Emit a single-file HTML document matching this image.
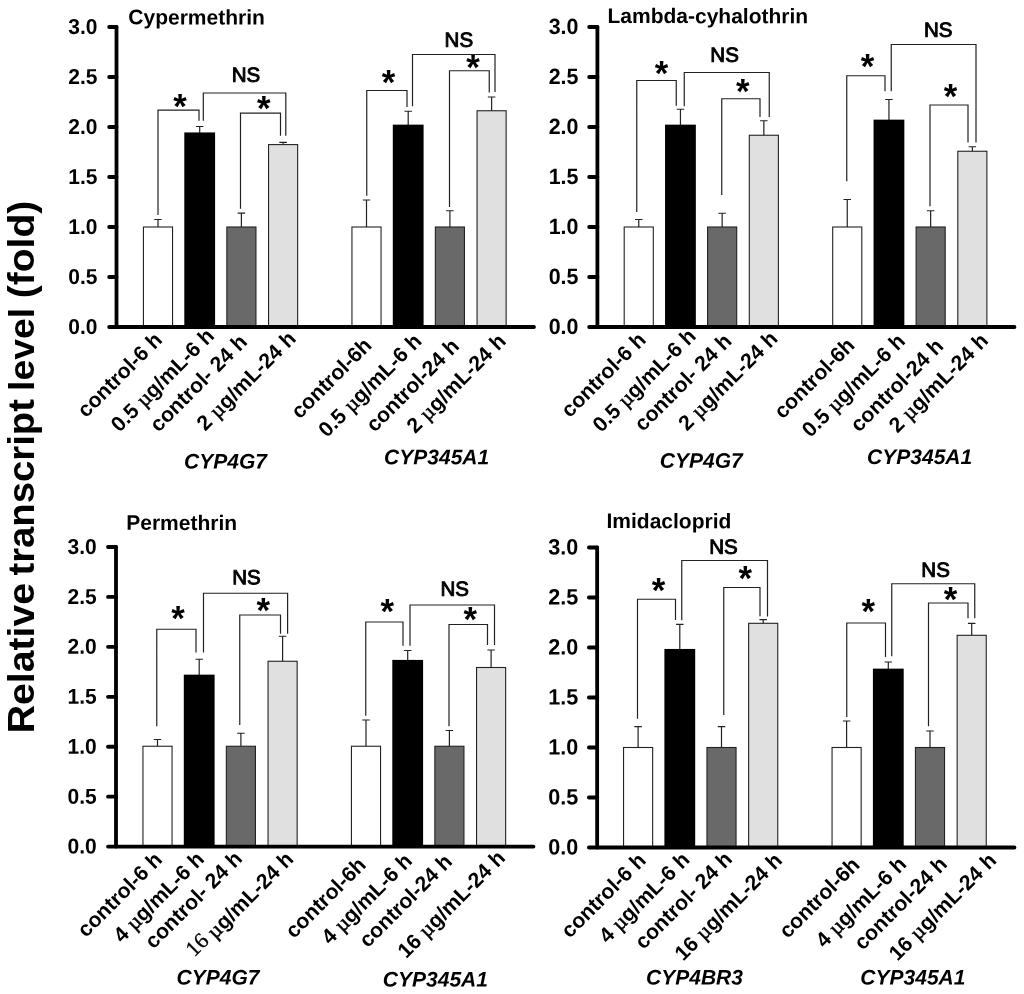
<!DOCTYPE html>
<html lang="en"><head><meta charset="utf-8"><title>Relative transcript level</title>
<style>
html,body{margin:0;padding:0;background:#fff}
svg{display:block}
text{font-family:"Liberation Sans",Arial,Helvetica,sans-serif;fill:#000}
.ln{fill:none;stroke:#222;stroke-width:1.2}
.bar{stroke:#222;stroke-width:1.1}
.axis{fill:none;stroke:#000;stroke-width:3.8;stroke-linecap:round;stroke-linejoin:round}
.tk{font-weight:bold;text-anchor:end}
.tt{font-size:21.0px;font-weight:bold}
.gn{font-size:21.0px;font-weight:bold;font-style:italic}
.lb{font-size:21.2px;font-weight:bold;text-anchor:end}
.mu{font-family:"Liberation Serif","Times New Roman",serif;font-weight:normal;stroke:#000;stroke-width:0.5px}
.serif{font-family:"Liberation Serif","Times New Roman",serif;font-weight:normal;font-size:22px;stroke:#000;stroke-width:0.35px}
.ns{font-size:20.5px;text-anchor:middle;stroke:#000;stroke-width:0.95px}
.st{font-size:34.8px;font-weight:bold;text-anchor:middle}
.yl{font-weight:bold}
</style></head>
<body>
<svg width="1024" height="994" viewBox="0 0 1024 994">
<rect width="1024" height="994" fill="#fff"/>
<path d="M158 227V219.5M154.25 219.5H161.75" class="ln"/>
<rect x="143.45" y="227" width="29.1" height="100" fill="#ffffff" class="bar"/>
<path d="M199.7 133.3V126.5M195.95 126.5H203.45" class="ln"/>
<rect x="185.15" y="133.3" width="29.1" height="193.7" fill="#000000" class="bar" style="stroke:#000;stroke-width:1.7"/>
<path d="M241.4 227V213.2M237.65 213.2H245.15" class="ln"/>
<rect x="226.85" y="227" width="29.1" height="100" fill="#696969" class="bar"/>
<path d="M283.1 144.6V142.3M279.35 142.3H286.85" class="ln"/>
<rect x="268.55" y="144.6" width="29.1" height="182.4" fill="#e0e0e0" class="bar"/>
<path d="M366.5 227V200M362.75 200H370.25" class="ln"/>
<rect x="351.95" y="227" width="29.1" height="100" fill="#ffffff" class="bar"/>
<path d="M408.2 125.5V111.25M404.45 111.25H411.95" class="ln"/>
<rect x="393.65" y="125.5" width="29.1" height="201.5" fill="#000000" class="bar" style="stroke:#000;stroke-width:1.7"/>
<path d="M449.9 227V210.75M446.15 210.75H453.65" class="ln"/>
<rect x="435.35" y="227" width="29.1" height="100" fill="#696969" class="bar"/>
<path d="M491.6 110.75V97M487.85 97H495.35" class="ln"/>
<rect x="477.05" y="110.75" width="29.1" height="216.25" fill="#e0e0e0" class="bar"/>
<path d="M116.5 27V327H534" class="axis"/>
<path d="M109.15 327H116.5" class="axis"/>
<text transform="translate(97.5 334) rotate(0.05) scale(1 1.03)" font-size="21" class="tk">0.0</text>
<path d="M109.15 277H116.5" class="axis"/>
<text transform="translate(97.5 284) rotate(0.05) scale(1 1.03)" font-size="21" class="tk">0.5</text>
<path d="M109.15 227H116.5" class="axis"/>
<text transform="translate(97.5 234) rotate(0.05) scale(1 1.03)" font-size="21" class="tk">1.0</text>
<path d="M109.15 177H116.5" class="axis"/>
<text transform="translate(97.5 184) rotate(0.05) scale(1 1.03)" font-size="21" class="tk">1.5</text>
<path d="M109.15 127H116.5" class="axis"/>
<text transform="translate(97.5 134) rotate(0.05) scale(1 1.03)" font-size="21" class="tk">2.0</text>
<path d="M109.15 77H116.5" class="axis"/>
<text transform="translate(97.5 84) rotate(0.05) scale(1 1.03)" font-size="21" class="tk">2.5</text>
<path d="M109.15 27H116.5" class="axis"/>
<text transform="translate(97.5 34) rotate(0.05) scale(1 1.03)" font-size="21" class="tk">3.0</text>
<text transform="translate(128.3 24.35) rotate(0.05) scale(1 1.0)" class="tt">Cypermethrin</text>
<path d="M158 215V110.1H199V120.7" class="ln"/>
<path d="M203.3 120.7V93H285.8V135.8" class="ln"/>
<path d="M240.5 208.7V113.2H280.5V135.8" class="ln"/>
<path d="M366.75 195.75V90.5H407V107" class="ln"/>
<path d="M412.5 106.25V54.5H495V92" class="ln"/>
<path d="M449.5 207V70.75H489.25V92.5" class="ln"/>
<text x="180" y="117.8" class="st">*</text>
<text x="263.7" y="120.3" class="st">*</text>
<text x="388.5" y="93.7" class="st">*</text>
<text x="473" y="78.7" class="st">*</text>
<text transform="translate(245.9 81.8) rotate(0.05) scale(1 1.0)" class="ns">NS</text>
<text transform="translate(458.82 46.85) rotate(0.05) scale(1 1.0)" class="ns">NS</text>
<text x="163.5" y="341" transform="rotate(-45 163.5 341)" class="lb">control-6 h</text>
<text x="215.5" y="337" transform="rotate(-45 215.5 337)" class="lb">0.5 <tspan class="mu">µ</tspan>g/mL-6 h</text>
<text x="248.5" y="343" transform="rotate(-45 248.5 343)" class="lb">control- 24 h</text>
<text x="297.25" y="339.75" transform="rotate(-45 297.25 339.75)" class="lb">2 <tspan class="mu">µ</tspan>g/mL-24 h</text>
<text x="373" y="346.5" transform="rotate(-45 373 346.5)" class="lb">control-6h</text>
<text x="423" y="342.25" transform="rotate(-45 423 342.25)" class="lb">0.5 <tspan class="mu">µ</tspan>g/mL-6 h</text>
<text x="460.5" y="347.25" transform="rotate(-45 460.5 347.25)" class="lb">control-24 h</text>
<text x="507.25" y="342.25" transform="rotate(-45 507.25 342.25)" class="lb">2 <tspan class="mu">µ</tspan>g/mL-24 h</text>
<text transform="translate(184.1 468.45) rotate(0.05) scale(1 1.0)" class="gn">CYP4G7</text>
<text transform="translate(384.1 464.2) rotate(0.05) scale(1 1.0)" class="gn">CYP345A1</text>
<path d="M638.75 227V219.5M635 219.5H642.5" class="ln"/>
<rect x="624.2" y="227" width="29.1" height="100" fill="#ffffff" class="bar"/>
<path d="M680.45 125.5V109.25M676.7 109.25H684.2" class="ln"/>
<rect x="665.9" y="125.5" width="29.1" height="201.5" fill="#000000" class="bar" style="stroke:#000;stroke-width:1.7"/>
<path d="M722.15 227V213.25M718.4 213.25H725.9" class="ln"/>
<rect x="707.6" y="227" width="29.1" height="100" fill="#696969" class="bar"/>
<path d="M763.85 135.25V120.75M760.1 120.75H767.6" class="ln"/>
<rect x="749.3" y="135.25" width="29.1" height="191.75" fill="#e0e0e0" class="bar"/>
<path d="M847.25 227V199.5M843.5 199.5H851" class="ln"/>
<rect x="832.7" y="227" width="29.1" height="100" fill="#ffffff" class="bar"/>
<path d="M888.95 120.5V99.5M885.2 99.5H892.7" class="ln"/>
<rect x="874.4" y="120.5" width="29.1" height="206.5" fill="#000000" class="bar" style="stroke:#000;stroke-width:1.7"/>
<path d="M930.65 227V210.75M926.9 210.75H934.4" class="ln"/>
<rect x="916.1" y="227" width="29.1" height="100" fill="#696969" class="bar"/>
<path d="M972.35 151.25V146.75M968.6 146.75H976.1" class="ln"/>
<rect x="957.8" y="151.25" width="29.1" height="175.75" fill="#e0e0e0" class="bar"/>
<path d="M597.4 27V327H1014.5" class="axis"/>
<path d="M589.15 327H597.4" class="axis"/>
<text transform="translate(578.4 334) rotate(0.05) scale(1 1.03)" font-size="21.4" class="tk">0.0</text>
<path d="M589.15 277H597.4" class="axis"/>
<text transform="translate(578.4 284) rotate(0.05) scale(1 1.03)" font-size="21.4" class="tk">0.5</text>
<path d="M589.15 227H597.4" class="axis"/>
<text transform="translate(578.4 234) rotate(0.05) scale(1 1.03)" font-size="21.4" class="tk">1.0</text>
<path d="M589.15 177H597.4" class="axis"/>
<text transform="translate(578.4 184) rotate(0.05) scale(1 1.03)" font-size="21.4" class="tk">1.5</text>
<path d="M589.15 127H597.4" class="axis"/>
<text transform="translate(578.4 134) rotate(0.05) scale(1 1.03)" font-size="21.4" class="tk">2.0</text>
<path d="M589.15 77H597.4" class="axis"/>
<text transform="translate(578.4 84) rotate(0.05) scale(1 1.03)" font-size="21.4" class="tk">2.5</text>
<path d="M589.15 27H597.4" class="axis"/>
<text transform="translate(578.4 34) rotate(0.05) scale(1 1.03)" font-size="21.4" class="tk">3.0</text>
<text transform="translate(607.5 23.05) rotate(0.05) scale(1 1.0)" class="tt">Lambda-cyhalothrin</text>
<path d="M636.75 212V80.5H676.25V105.75" class="ln"/>
<path d="M684.25 106.25V72.5H769.25V117" class="ln"/>
<path d="M721.75 195V98.75H760V117" class="ln"/>
<path d="M846.75 181.25V75.75H885V91.25" class="ln"/>
<path d="M891.25 91.25V44.5H976V142.5" class="ln"/>
<path d="M930 206.25V105H968V142.5" class="ln"/>
<text x="661.6" y="84.7" class="st">*</text>
<text x="742.75" y="102.7" class="st">*</text>
<text x="867.6" y="78.3" class="st">*</text>
<text x="950.5" y="108.3" class="st">*</text>
<text transform="translate(724.6 61.85) rotate(0.05) scale(1 1.0)" class="ns">NS</text>
<text transform="translate(938.2 36.85) rotate(0.05) scale(1 1.0)" class="ns">NS</text>
<text x="647.25" y="341" transform="rotate(-45 647.25 341)" class="lb">control-6 h</text>
<text x="697.25" y="337.25" transform="rotate(-45 697.25 337.25)" class="lb">0.5 <tspan class="mu">µ</tspan>g/mL-6 h</text>
<text x="733" y="342.25" transform="rotate(-45 733 342.25)" class="lb">control- 24 h</text>
<text x="779" y="339.75" transform="rotate(-45 779 339.75)" class="lb">2 <tspan class="mu">µ</tspan>g/mL-24 h</text>
<text x="856" y="346.5" transform="rotate(-45 856 346.5)" class="lb">control-6h</text>
<text x="906.5" y="342.25" transform="rotate(-45 906.5 342.25)" class="lb">0.5 <tspan class="mu">µ</tspan>g/mL-6 h</text>
<text x="944.75" y="347.25" transform="rotate(-45 944.75 347.25)" class="lb">control-24 h</text>
<text x="989.5" y="341.75" transform="rotate(-45 989.5 341.75)" class="lb">2 <tspan class="mu">µ</tspan>g/mL-24 h</text>
<text transform="translate(659.85 467.7) rotate(0.05) scale(1 1.0)" class="gn">CYP4G7</text>
<text transform="translate(867.1 463.95) rotate(0.05) scale(1 1.0)" class="gn">CYP345A1</text>
<path d="M157.5 746.25V739.5M153.75 739.5H161.25" class="ln"/>
<rect x="142.95" y="746.25" width="29.1" height="100.35" fill="#ffffff" class="bar"/>
<path d="M199.2 675.5V659.25M195.45 659.25H202.95" class="ln"/>
<rect x="184.65" y="675.5" width="29.1" height="171.1" fill="#000000" class="bar" style="stroke:#000;stroke-width:1.7"/>
<path d="M240.9 746.25V733.25M237.15 733.25H244.65" class="ln"/>
<rect x="226.35" y="746.25" width="29.1" height="100.35" fill="#696969" class="bar"/>
<path d="M282.6 661.25V636.25M278.85 636.25H286.35" class="ln"/>
<rect x="268.05" y="661.25" width="29.1" height="185.35" fill="#e0e0e0" class="bar"/>
<path d="M366 746.25V720M362.25 720H369.75" class="ln"/>
<rect x="351.45" y="746.25" width="29.1" height="100.35" fill="#ffffff" class="bar"/>
<path d="M407.7 660.75V650.5M403.95 650.5H411.45" class="ln"/>
<rect x="393.15" y="660.75" width="29.1" height="185.85" fill="#000000" class="bar" style="stroke:#000;stroke-width:1.7"/>
<path d="M449.4 746.25V730.5M445.65 730.5H453.15" class="ln"/>
<rect x="434.85" y="746.25" width="29.1" height="100.35" fill="#696969" class="bar"/>
<path d="M491.1 667.5V650M487.35 650H494.85" class="ln"/>
<rect x="476.55" y="667.5" width="29.1" height="179.1" fill="#e0e0e0" class="bar"/>
<path d="M116 547V846.6H533.5" class="axis"/>
<path d="M108 846.6H116" class="axis"/>
<text transform="translate(96.7 853.6) rotate(0.05) scale(1 1.03)" font-size="21" class="tk">0.0</text>
<path d="M108 796.67H116" class="axis"/>
<text transform="translate(96.7 803.67) rotate(0.05) scale(1 1.03)" font-size="21" class="tk">0.5</text>
<path d="M108 746.73H116" class="axis"/>
<text transform="translate(96.7 753.73) rotate(0.05) scale(1 1.03)" font-size="21" class="tk">1.0</text>
<path d="M108 696.8H116" class="axis"/>
<text transform="translate(96.7 703.8) rotate(0.05) scale(1 1.03)" font-size="21" class="tk">1.5</text>
<path d="M108 646.87H116" class="axis"/>
<text transform="translate(96.7 653.87) rotate(0.05) scale(1 1.03)" font-size="21" class="tk">2.0</text>
<path d="M108 596.93H116" class="axis"/>
<text transform="translate(96.7 603.93) rotate(0.05) scale(1 1.03)" font-size="21" class="tk">2.5</text>
<path d="M108 547H116" class="axis"/>
<text transform="translate(96.7 554) rotate(0.05) scale(1 1.03)" font-size="21" class="tk">3.0</text>
<text transform="translate(126.2 529.85) rotate(0.05) scale(1 1.0)" class="tt">Permethrin</text>
<path d="M156.75 726.25V629.25H196V652.5" class="ln"/>
<path d="M203.5 652.5V593.25H287.6V633.75" class="ln"/>
<path d="M239.75 725V615H280.5V633.75" class="ln"/>
<path d="M365.75 715.75V622H403V645.75" class="ln"/>
<path d="M410 645.75V605H494.5V645" class="ln"/>
<path d="M449 726.25V624.5H487.5V645" class="ln"/>
<text x="177.9" y="629.6" class="st">*</text>
<text x="263.25" y="621.6" class="st">*</text>
<text x="387.25" y="622.7" class="st">*</text>
<text x="470.25" y="631.45" class="st">*</text>
<text transform="translate(246.45 584.35) rotate(0.05) scale(1 1.0)" class="ns">NS</text>
<text transform="translate(454.7 595.85) rotate(0.05) scale(1 1.0)" class="ns">NS</text>
<text x="163.5" y="860.75" transform="rotate(-45 163.5 860.75)" class="lb">control-6 h</text>
<text x="205.5" y="860.25" transform="rotate(-45 205.5 860.25)" class="lb">4 <tspan class="mu">µ</tspan>g/mL-6 h</text>
<text x="243.5" y="859.75" transform="rotate(-45 243.5 859.75)" class="lb">control- 24 h</text>
<text x="294.75" y="860.25" transform="rotate(-45 294.75 860.25)" class="lb"><tspan class="serif" dy="-2.2">16 </tspan><tspan dy="2.2"><tspan class="mu">µ</tspan>g/mL-24 h</tspan></text>
<text x="367.25" y="866" transform="rotate(-45 367.25 866)" class="lb">control-6h</text>
<text x="413.5" y="862" transform="rotate(-45 413.5 862)" class="lb">4 <tspan class="mu">µ</tspan>g/mL-6 h</text>
<text x="453.5" y="862.75" transform="rotate(-45 453.5 862.75)" class="lb">control-24 h</text>
<text x="506.5" y="859" transform="rotate(-45 506.5 859)" class="lb">16 <tspan class="mu">µ</tspan>g/mL-24 h</text>
<text transform="translate(176.6 984.45) rotate(0.05) scale(1 1.0)" class="gn">CYP4G7</text>
<text transform="translate(382.85 986.45) rotate(0.05) scale(1 1.0)" class="gn">CYP345A1</text>
<path d="M638.1 747.5V726.6M634.35 726.6H641.85" class="ln"/>
<rect x="623.55" y="747.5" width="29.1" height="100" fill="#ffffff" class="bar"/>
<path d="M679.8 649.8V624.4M676.05 624.4H683.55" class="ln"/>
<rect x="665.25" y="649.8" width="29.1" height="197.7" fill="#000000" class="bar" style="stroke:#000;stroke-width:1.7"/>
<path d="M721.5 747.5V726.6M717.75 726.6H725.25" class="ln"/>
<rect x="706.95" y="747.5" width="29.1" height="100" fill="#696969" class="bar"/>
<path d="M763.2 623.3V619.6M759.45 619.6H766.95" class="ln"/>
<rect x="748.65" y="623.3" width="29.1" height="224.2" fill="#e0e0e0" class="bar"/>
<path d="M846.6 747.5V721M842.85 721H850.35" class="ln"/>
<rect x="832.05" y="747.5" width="29.1" height="100" fill="#ffffff" class="bar"/>
<path d="M888.3 669.5V662M884.55 662H892.05" class="ln"/>
<rect x="873.75" y="669.5" width="29.1" height="178" fill="#000000" class="bar" style="stroke:#000;stroke-width:1.7"/>
<path d="M930 747.5V731M926.25 731H933.75" class="ln"/>
<rect x="915.45" y="747.5" width="29.1" height="100" fill="#696969" class="bar"/>
<path d="M971.7 635.3V623.3M967.95 623.3H975.45" class="ln"/>
<rect x="957.15" y="635.3" width="29.1" height="212.2" fill="#e0e0e0" class="bar"/>
<path d="M597.15 547.5V847.5H1014.5" class="axis"/>
<path d="M588.9 847.5H597.15" class="axis"/>
<text transform="translate(578.15 854.5) rotate(0.05) scale(1 1.03)" font-size="21.6" class="tk">0.0</text>
<path d="M588.9 797.5H597.15" class="axis"/>
<text transform="translate(578.15 804.5) rotate(0.05) scale(1 1.03)" font-size="21.6" class="tk">0.5</text>
<path d="M588.9 747.5H597.15" class="axis"/>
<text transform="translate(578.15 754.5) rotate(0.05) scale(1 1.03)" font-size="21.6" class="tk">1.0</text>
<path d="M588.9 697.5H597.15" class="axis"/>
<text transform="translate(578.15 704.5) rotate(0.05) scale(1 1.03)" font-size="21.6" class="tk">1.5</text>
<path d="M588.9 647.5H597.15" class="axis"/>
<text transform="translate(578.15 654.5) rotate(0.05) scale(1 1.03)" font-size="21.6" class="tk">2.0</text>
<path d="M588.9 597.5H597.15" class="axis"/>
<text transform="translate(578.15 604.5) rotate(0.05) scale(1 1.03)" font-size="21.6" class="tk">2.5</text>
<path d="M588.9 547.5H597.15" class="axis"/>
<text transform="translate(578.15 554.5) rotate(0.05) scale(1 1.03)" font-size="21.6" class="tk">3.0</text>
<text transform="translate(606.5 528.1) rotate(0.05) scale(1 1.0)" class="tt">Imidacloprid</text>
<path d="M637.5 718.75V599.25H675.5V620" class="ln"/>
<path d="M681.75 620.3V560.5H767.5V616.5" class="ln"/>
<path d="M723.75 715V587.5H760V616.25" class="ln"/>
<path d="M846.75 717V623H885.5V657" class="ln"/>
<path d="M891.75 656.25V583.75H974.75V618.25" class="ln"/>
<path d="M928.5 726.25V603H968V618.25" class="ln"/>
<text x="658.5" y="602.1" class="st">*</text>
<text x="745.25" y="589.6" class="st">*</text>
<text x="868.25" y="623.45" class="st">*</text>
<text x="950.5" y="610.6" class="st">*</text>
<text transform="translate(723.45 553.85) rotate(0.05) scale(1 1.0)" class="ns">NS</text>
<text transform="translate(935.58 576.85) rotate(0.05) scale(1 1.0)" class="ns">NS</text>
<text x="647.25" y="861.5" transform="rotate(-45 647.25 861.5)" class="lb">control-6 h</text>
<text x="691" y="860.75" transform="rotate(-45 691 860.75)" class="lb">4 <tspan class="mu">µ</tspan>g/mL-6 h</text>
<text x="733.5" y="860.25" transform="rotate(-45 733.5 860.25)" class="lb">control- 24 h</text>
<text x="783.5" y="861.5" transform="rotate(-45 783.5 861.5)" class="lb">16 <tspan class="mu">µ</tspan>g/mL-24 h</text>
<text x="861" y="866" transform="rotate(-45 861 866)" class="lb">control-6h</text>
<text x="907.75" y="865.25" transform="rotate(-45 907.75 865.25)" class="lb">4 <tspan class="mu">µ</tspan>g/mL-6 h</text>
<text x="948.5" y="865.25" transform="rotate(-45 948.5 865.25)" class="lb">control-24 h</text>
<text x="997.75" y="861.5" transform="rotate(-45 997.75 861.5)" class="lb">16 <tspan class="mu">µ</tspan>g/mL-24 h</text>
<text transform="translate(646.1 984.45) rotate(0.05) scale(1 1.0)" class="gn">CYP4BR3</text>
<text transform="translate(860.35 984.45) rotate(0.05) scale(1 1.0)" class="gn">CYP345A1</text>
<text transform="translate(34 733.3) rotate(-90) scale(1.06 1)" font-size="36.98" class="yl">Relative</text>
<text transform="translate(34 575.6) rotate(-90) scale(1.06 1)" font-size="36.13" class="yl">transcript</text>
<text transform="translate(34 390.9) rotate(-90) scale(1.06 1)" font-size="35.19" class="yl">level</text>
<text transform="translate(34 298.3) rotate(-90) scale(1.06 1)" font-size="36.89" class="yl">(fold)</text>
</svg>
</body></html>
